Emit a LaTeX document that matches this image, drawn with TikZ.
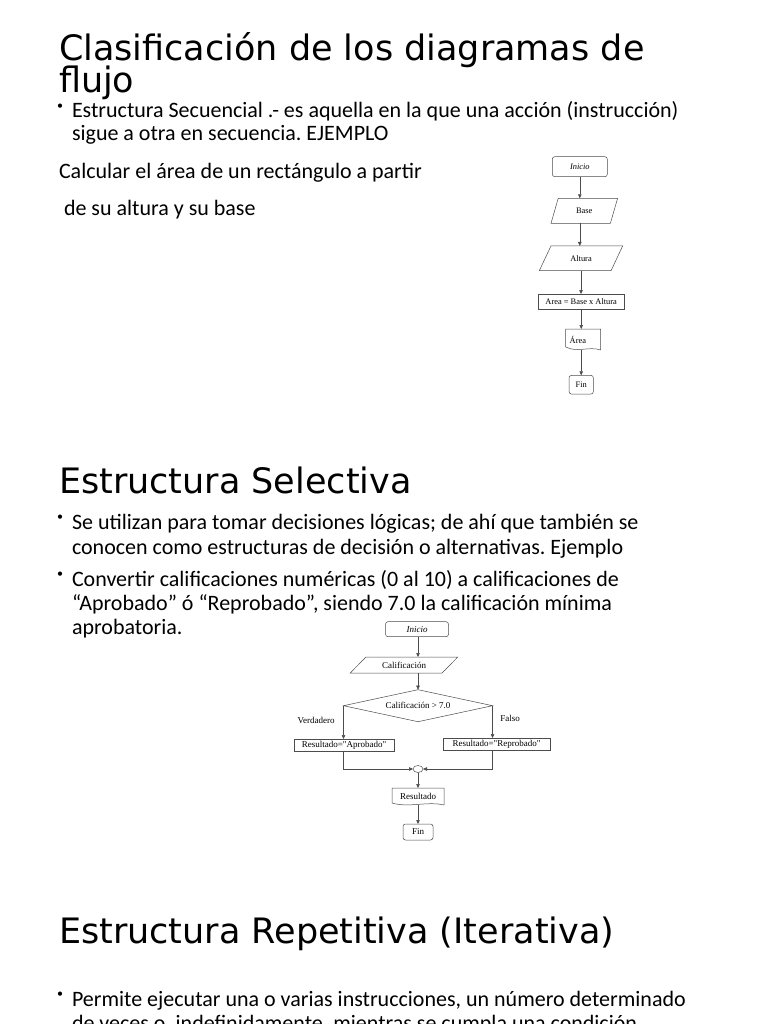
\documentclass[tikz,border=0pt]{standalone}
\usepackage{fontspec}
\setmainfont{Carlito}
\newfontfamily\ttlfont{DejaVu Sans}
\newfontfamily\chartfont{Liberation Serif}
\usetikzlibrary{positioning,shapes.geometric,arrows.meta}
\frenchspacing

\begin{document}
\begin{tikzpicture}[x=1pt, y=-1pt, every node/.style={inner sep=0pt, outer sep=0pt},
    ttl/.style={anchor=base west, font={\ttlfont\fontsize{35}{35}\selectfont}},
    txt/.style={anchor=base west, font={\fontsize{22}{22}\selectfont}},
    bul/.style={font={\fontsize{12}{12}\selectfont}},
    fc/.style={font={\chartfont\fontsize{#1}{#1}\selectfont}}, fc/.default=9,
    fbox/.style={draw=black!70, line width=0.5pt, align=center},
    term/.style={fbox, rounded corners=2.5pt},
    io/.style={fbox, trapezium, trapezium stretches=true},
    dec/.style={fbox, diamond, aspect=4.66},
    jn/.style={fbox, ellipse},
    arr/.style={-{Triangle[length=4pt,width=3.5pt]}, draw=black!70, line width=0.5pt},
    ln/.style={draw=black!70, line width=0.5pt}]
  \useasboundingbox (0,0) rectangle (768,1024);
  \clip (0,0) rectangle (768,1024);
  \fill[white] (0,0) rectangle (768,1024);

  % secuencial
  \node[ttl] (t1a) at (59,61) {Clasificación de los diagramas de};
  \node[ttl] (t1b) at (59,93) {flujo};
  \node[bul] (b1) at (60,107) {•};
  \node[txt] (s1a) at (72,118) {Estructura Secuencial .- es aquella en la que una acción (instrucción)};
  \node[txt] (s1b) at (72,141) {sigue a otra en secuencia. EJEMPLO};
  \node[txt] (c1a) at (59,179) {Calcular el área de un rectángulo a partir};
  \node[txt] (c1b) at (64,215) {de su altura y su base};

  \node[term, fc=8.4, minimum width=55, minimum height=20] (ini1) at (579.8,166.7) {\itshape Inicio};
  \node[io, fc=8.4, trapezium left angle=68, trapezium right angle=112, minimum width=66.7, minimum height=25] (base) at (584.3,210.8) {Base};
  \node[io, fc=8.4, trapezium left angle=55, trapezium right angle=125, minimum width=83.4, minimum height=24.7] (alt) at (581,258.3) {Altura};
  \node[fbox, fc=8.4, minimum width=85.7, minimum height=15.3] (area) at (581.2,301.7) {Area = Base x Altura};
  \node[fc=8.4, minimum width=35, minimum height=21, text width=27] (out1) at (583.2,339.5) {Área};
  \draw[ln] (out1.south east) -- (out1.north east) -- (out1.north west) -- ([yshift=3]out1.south west)
    .. controls +(12,6) and +(-12,-4) .. (out1.south east);
  \node[term, fc=8.4, minimum width=24.3, minimum height=18.7] (fin1) at (581.2,384.7) {Fin};
  \draw[arr] (ini1.south) -- (ini1.south |- base.north);
  \draw[arr] (ini1.south |- base.south) -- (ini1.south |- alt.north);
  \draw[arr] (alt.south) -- (alt.south |- area.north);
  \draw[arr] (area.south) -- (area.south |- out1.north);
  \draw[arr] (fin1.north |- out1.south) -- (fin1.north);

  % selectiva
  \node[ttl] (t2) at (59,493) {Estructura Selectiva};
  \node[bul] (b2) at (60,518) {•};
  \node[txt] (s2a) at (72,529) {Se utilizan para tomar decisiones lógicas; de ahí que también se};
  \node[txt] (s2b) at (72,554) {conocen como estructuras de decisión o alternativas. Ejemplo};
  \node[bul] (b3) at (60,575) {•};
  \node[txt] (s3a) at (72,586) {Convertir calificaciones numéricas (0 al 10) a calificaciones de};
  \node[txt] (s3b) at (72,610) {“Aprobado” ó “Reprobado”, siendo 7.0 la calificación mínima};
  \node[txt] (s3c) at (72,634) {aprobatoria.};

  \node[term, fc, minimum width=63, minimum height=15] (ini2) at (417,629.2) {\itshape Inicio};
  \node[io, fc, trapezium left angle=35, trapezium right angle=145, minimum width=108, minimum height=16] (cal) at (404,665) {Calificación};
  \node[dec, fc, minimum width=149, minimum height=32] (cond) at (418,705.7) {Calificación > 7.0};
  \node[fc] (ver) at (316,720) {Verdadero};
  \node[fc] (fal) at (510,718) {Falso};
  \node[fbox, fc, minimum width=100, minimum height=12] (apr) at (344,745) {Resultado="Aprobado"};
  \node[fbox, fc, minimum width=107, minimum height=12] (rep) at (496.5,744) {Resultado="Reprobado"};
  \node[jn, minimum width=10, minimum height=7] (une) at (418,769) {};
  \node[fc, minimum width=52, minimum height=17] (res) at (418,796.5) {Resultado};
  \draw[ln] (res.south east) -- (res.north east) -- (res.north west) -- ([yshift=2]res.south west)
    .. controls +(17,5) and +(-17,-4) .. (res.south east);
  \node[term, fc, minimum width=30, minimum height=16] (fin2) at (418,832) {Fin};
  \draw[arr] (ini2.south -| cond.north) -- (cond.north |- cal.north);
  \draw[arr] (cond.north |- cal.south) -- (cond.north);
  \draw[arr] (cond.west) -- (cond.west |- apr.north);
  \draw[arr] (cond.east) -- (cond.east |- rep.north);
  \draw[arr] (cond.west |- apr.south) -- (cond.west |- une.west) -- (une.west);
  \draw[arr] (cond.east |- rep.south) -- (cond.east |- une.east) -- (une.east);
  \draw[arr] (une.south) -- (res.north);
  \draw[arr] (res.south) -- (fin2.north);

  % repetitiva
  \node[ttl] (t3) at (59,943) {Estructura Repetitiva (Iterativa)};
  \node[bul] (b4) at (60,995) {•};
  \node[txt] (s4a) at (72,1006) {Permite ejecutar una o varias instrucciones, un número determinado};
  \node[txt] (s4b) at (72,1030) {de veces o, indefinidamente, mientras se cumpla una condición};
\end{tikzpicture}
\end{document}
